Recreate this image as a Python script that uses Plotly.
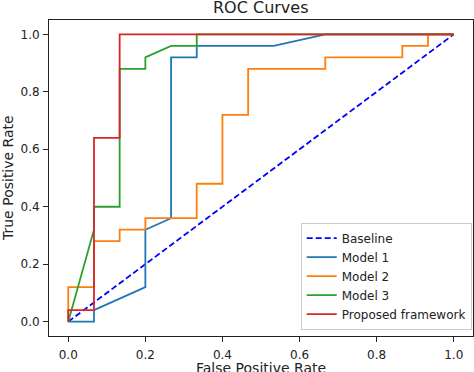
import plotly.graph_objects as go

# ---- data ----
baseline_fpr = [0.0, 1.0]
baseline_tpr = [0.0, 1.0]

model1_fpr = [0.0, 0.0667, 0.0667, 0.2, 0.2, 0.2667, 0.2667, 0.3333, 0.3333, 0.5333, 0.6667, 1.0]
model1_tpr = [0.0, 0.0, 0.04, 0.12, 0.32, 0.36, 0.92, 0.92, 0.96, 0.96, 1.0, 1.0]

model2_fpr = [0.0, 0.0, 0.0667, 0.0667, 0.1333, 0.1333, 0.2, 0.2, 0.3333, 0.3333, 0.4, 0.4,
              0.4667, 0.4667, 0.6667, 0.6667, 0.8667, 0.8667, 0.9333, 0.9333, 1.0]
model2_tpr = [0.0, 0.12, 0.12, 0.28, 0.28, 0.32, 0.32, 0.36, 0.36, 0.48, 0.48, 0.72,
              0.72, 0.88, 0.88, 0.92, 0.92, 0.96, 0.96, 1.0, 1.0]

model3_fpr = [0.0, 0.0667, 0.0667, 0.1333, 0.1333, 0.2, 0.2, 0.2667, 0.3333, 0.3333, 1.0]
model3_tpr = [0.0, 0.32, 0.40, 0.40, 0.88, 0.88, 0.92, 0.96, 0.96, 1.0, 1.0]

proposed_fpr = [0.0, 0.0, 0.0667, 0.0667, 0.1333, 0.1333, 1.0]
proposed_tpr = [0.0, 0.04, 0.04, 0.64, 0.64, 1.0, 1.0]

tick_vals = [0.0, 0.2, 0.4, 0.6, 0.8, 1.0]
tick_text = ["0.0", "0.2", "0.4", "0.6", "0.8", "1.0"]

FONT = "DejaVu Sans"
INK = "#222222"
LW = 1.8

fig = go.Figure()
fig.add_trace(go.Scatter(x=baseline_fpr, y=baseline_tpr, mode="lines", name="Baseline",
                         line=dict(color="#0000ff", width=LW, dash="6px,3px")))
fig.add_trace(go.Scatter(x=model1_fpr, y=model1_tpr, mode="lines", name="Model 1",
                         line=dict(color="#1f77b4", width=LW)))
fig.add_trace(go.Scatter(x=model2_fpr, y=model2_tpr, mode="lines", name="Model 2",
                         line=dict(color="#ff7f0e", width=LW)))
fig.add_trace(go.Scatter(x=model3_fpr, y=model3_tpr, mode="lines", name="Model 3",
                         line=dict(color="#2ca02c", width=LW)))
fig.add_trace(go.Scatter(x=proposed_fpr, y=proposed_tpr, mode="lines", name="Proposed framework",
                         line=dict(color="#d62728", width=LW)))

axis_common = dict(
    range=[-0.05, 1.05], showgrid=False, zeroline=False, automargin=False,
    showline=True, linecolor=INK, linewidth=1, mirror=True,
    ticks="outside", ticklen=5, tickwidth=1, tickcolor=INK,
    tickvals=tick_vals, ticktext=tick_text,
    tickfont=dict(family=FONT, size=12, color=INK),
)

fig.update_layout(
    width=474, height=372,
    margin=dict(l=49, r=1, t=20, b=36, autoexpand=False),
    paper_bgcolor="white", plot_bgcolor="white",
    font=dict(family=FONT, color=INK),
    xaxis=dict(**axis_common, ticklabelstandoff=3),
    yaxis=dict(**axis_common, ticklabelstandoff=1),
    legend=dict(x=0.997, xanchor="right", y=0.02, yanchor="bottom",
                bgcolor="rgba(255,255,255,0.85)", bordercolor="#cccccc", borderwidth=1,
                font=dict(family=FONT, size=12, color=INK), tracegroupgap=0),
    showlegend=True,
    annotations=[
        dict(text="ROC Curves", xref="paper", yref="paper", x=0.5, y=1, yshift=13,
             xanchor="center", yanchor="middle", showarrow=False,
             font=dict(family=FONT, size=16, color=INK)),
        dict(text="False Positive Rate", xref="paper", yref="paper", x=0.5, y=0, yshift=-32,
             xanchor="center", yanchor="middle", showarrow=False,
             font=dict(family=FONT, size=14, color=INK)),
        dict(text="True Positive Rate", xref="paper", yref="paper", x=0, y=0.5, xshift=-41,
             xanchor="center", yanchor="middle", textangle=-90, showarrow=False,
             font=dict(family=FONT, size=14, color=INK)),
    ],
)

fig.write_html("out.html",
               config={"displayModeBar": False},
               post_script="document.body.style.margin='0';document.body.style.padding='0';")
